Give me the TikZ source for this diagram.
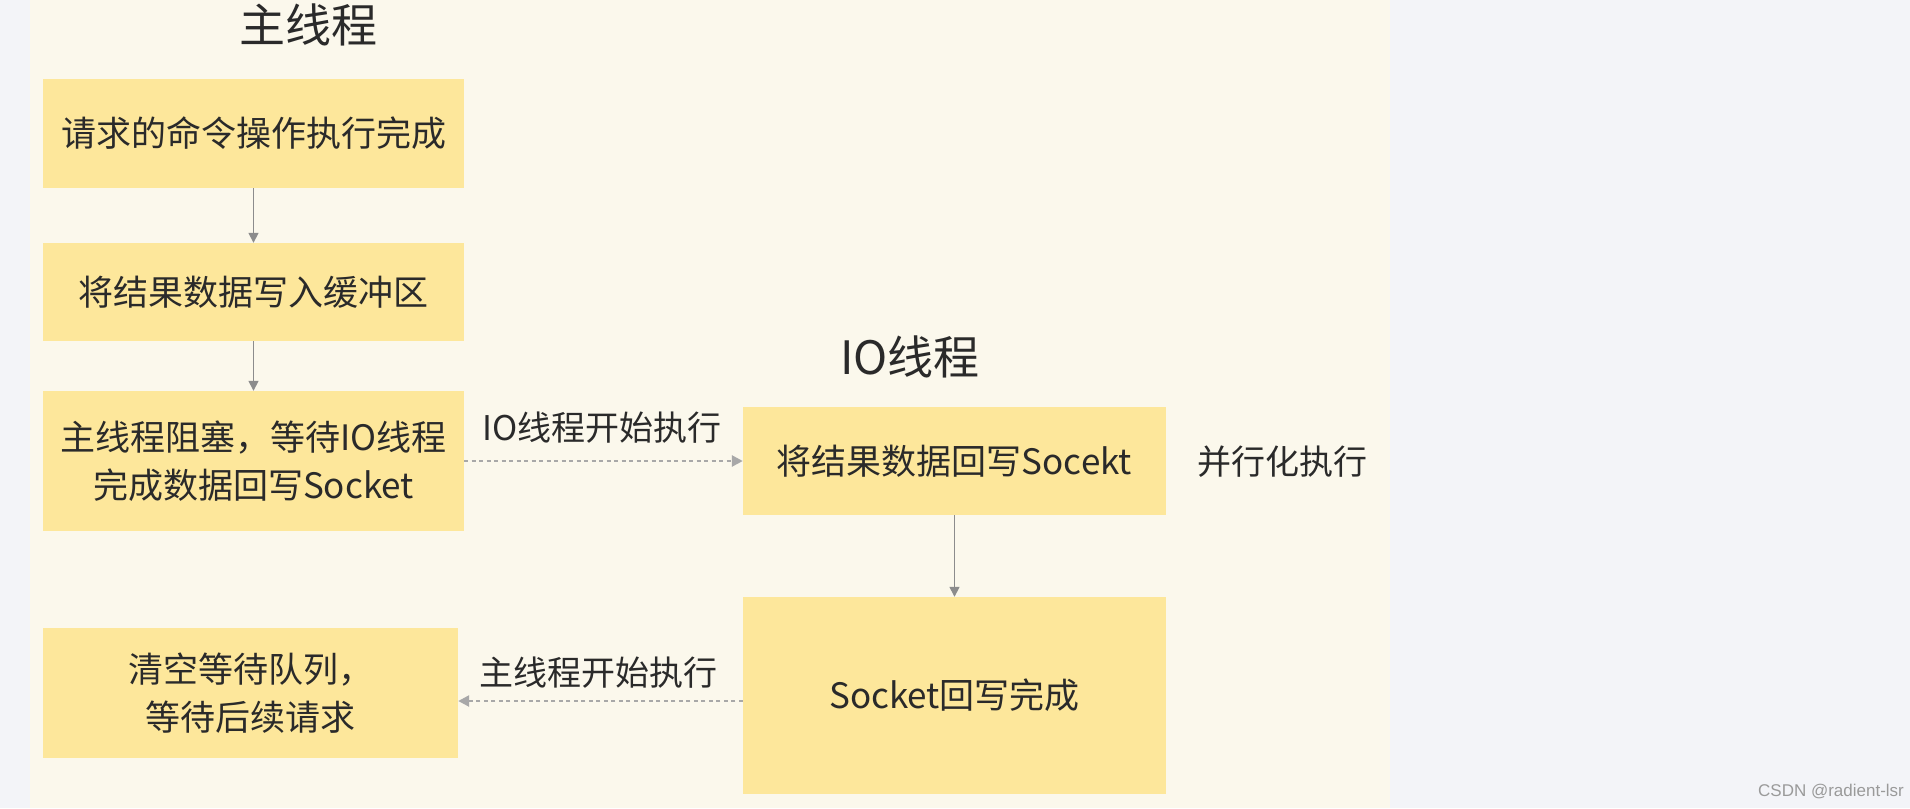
\documentclass[tikz,border=0pt]{standalone}
\usepackage{fontspec}
\setmainfont{Noto Sans CJK SC}
\newfontfamily\wmfont{Liberation Sans}
\usetikzlibrary{arrows.meta,calc}
\definecolor{pagebg}{HTML}{F3F4F8}
\definecolor{creambg}{HTML}{FBF8EC}
\definecolor{boxfill}{HTML}{FDE79B}
\definecolor{txt}{HTML}{2A2A2A}
\definecolor{arr}{HTML}{8C8C8C}
\definecolor{darr}{HTML}{A8A8A8}
\definecolor{wm}{HTML}{9A9A9A}
\tikzset{
  box/.style={fill=boxfill, draw=none, inner sep=0pt, align=center, text=txt,
    font=\fontsize{35}{48}\selectfont},
  title/.style={inner sep=0pt, text=txt, font=\fontsize{46}{50}\selectfont},
  lab/.style={inner sep=0pt, text=txt, font=\fontsize{34}{40}\selectfont},
  solidarrow/.style={draw=arr, line width=1.5pt, -{Triangle[width=10pt,length=10pt]}},
  dotarrow/.style={draw=darr, line width=2.5pt, dash pattern=on 4pt off 3.5pt,
    -{Triangle[width=11pt,length=11pt]}},
}
\begin{document}
\begin{tikzpicture}[x=1pt,y=-1pt]
\useasboundingbox (0,0) rectangle (1910,808);
\fill[pagebg] (0,0) rectangle (1910,808);
\fill[creambg] (30,0) rectangle (1390,808);

\node[title] (t1) at (308,25) {主线程};
\node[title] (t2) at (910,357) {IO线程};

\node[box, minimum width=421pt, minimum height=109pt] (b1) at (253.5,133.5) {请求的命令操作执行完成};
\node[box, minimum width=421pt, minimum height=98pt] (b2) at (253.5,292) {将结果数据写入缓冲区};
\node[box, minimum width=421pt, minimum height=140pt] (b3) at (253.5,461) {主线程阻塞，等待IO线程\\完成数据回写Socket};
\node[box, minimum width=415pt, minimum height=130pt] (b4) at (250.5,693) {清空等待队列，\\等待后续请求};
\node[box, minimum width=423pt, minimum height=108pt] (b5) at (954.5,461) {将结果数据回写Socekt};
\node[box, minimum width=423pt, minimum height=197pt] (b6) at (954.5,695.5) {Socket回写完成};

\node[lab] (l1) at (602,428) {IO线程开始执行};
\node[lab] (l2) at (598,673) {主线程开始执行};
\node[lab] (l3) at (1282,462) {并行化执行};

\node[inner sep=0pt, text=wm, font=\wmfont\fontsize{17}{20}\selectfont] (w) at (1831,792) {CSDN @radient-lsr};

\draw[solidarrow] (b1.south) -- (b2.north);
\draw[solidarrow] (b2.south) -- (b3.north);
\draw[solidarrow] (b5.south) -- (b6.north);
\draw[dotarrow] (b3.east) -- (b5.west);
\coordinate (ay) at (0,701);
\draw[dotarrow] (b6.west |- ay) -- (b4.east |- ay);
\end{tikzpicture}
\end{document}
